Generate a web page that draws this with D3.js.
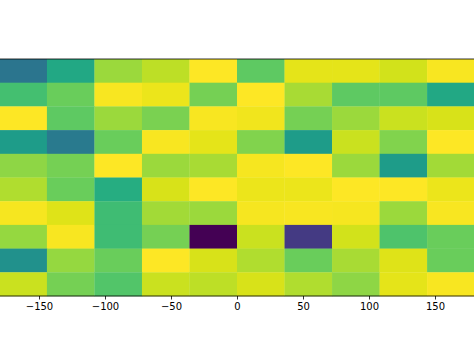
<!DOCTYPE html>
<html><head><meta charset="utf-8">
<script src="https://cdn.jsdelivr.net/npm/d3@7"></script>
<style>body{margin:0;background:#fff}svg{display:block}</style>
</head><body>
<svg id="chart" width="474" height="355"></svg>
<script>
const xEdges = [-180,-144,-108,-72,-36,0,36,72,108,144,180];
const xTicks = [-150,-100,-50,0,50,100,150];
// values (0..1 on viridis), rows top to bottom
const row0 = [0.39,0.60,0.85,0.90,1.00,0.75,0.96,0.96,0.93,0.99];
const row1 = [0.70,0.77,0.99,0.97,0.79,1.00,0.87,0.75,0.75,0.60];
const row2 = [1.00,0.75,0.85,0.80,0.99,0.98,0.79,0.85,0.92,0.94];
const row3 = [0.55,0.41,0.77,0.99,0.96,0.81,0.55,0.92,0.81,1.00];
const row4 = [0.83,0.79,1.00,0.85,0.87,0.985,1.00,0.85,0.55,0.86];
const row5 = [0.88,0.77,0.62,0.94,1.00,0.97,0.97,1.00,1.00,0.97];
const row6 = [0.985,0.95,0.69,0.86,0.85,0.985,0.99,0.985,0.85,0.99];
const row7 = [0.84,0.99,0.69,0.79,0.00,0.92,0.17,0.93,0.72,0.77];
const row8 = [0.50,0.84,0.77,1.00,0.94,0.88,0.77,0.87,0.95,0.77];
const row9 = [0.92,0.79,0.73,0.92,0.90,0.94,0.88,0.83,0.96,0.99];
const rows = [row0,row1,row2,row3,row4,row5,row6,row7,row8,row9];

const svg = d3.select("#chart");
const x = d3.scaleLinear().domain([-180,180]).range([-0.6,474.6]);
const y = d3.scaleLinear().domain([0,10]).range([59,296]);
const color = d3.scaleSequential(d3.interpolateViridis).domain([0,1]);

const cells = [];
rows.forEach((r,i)=>r.forEach((v,j)=>cells.push({i,j,v})));
svg.append("g").selectAll("rect").data(cells).join("rect")
  .attr("x",d=>x(xEdges[d.j]))
  .attr("y",d=>y(d.i))
  .attr("width",d=>x(xEdges[d.j+1])-x(xEdges[d.j])+0.3)
  .attr("height",d=>y(d.i+1)-y(d.i)+0.3)
  .attr("fill",d=>color(d.v));

// spines
svg.append("line").attr("x1",0).attr("x2",474).attr("y1",y(0)).attr("y2",y(0))
  .attr("stroke","#000").attr("stroke-width",0.8);

const ax = svg.append("g").attr("transform",`translate(0,${y(10)})`)
  .call(d3.axisBottom(x).tickValues(xTicks).tickSize(3.5).tickPadding(3.5)
    .tickFormat(d=> d<0 ? "\u2212"+Math.abs(d) : String(d)));
ax.select(".domain").attr("stroke","#000").attr("stroke-width",0.8).attr("d","M0,0H474");
ax.selectAll(".tick line").attr("stroke","#000").attr("stroke-width",0.8);
ax.selectAll("text").attr("font-family","DejaVu Sans").attr("font-size","10px").attr("fill","#000");
</script>
</body></html>
